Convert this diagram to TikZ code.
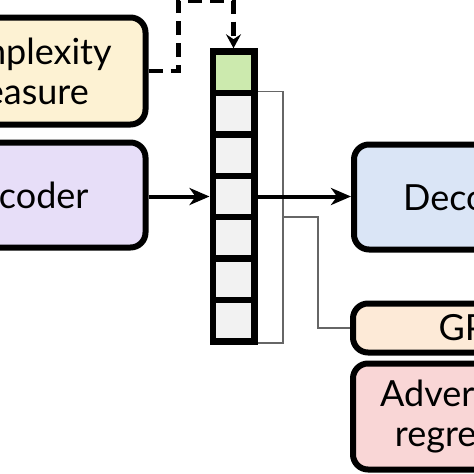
\documentclass[tikz,border=0pt]{standalone}
\usepackage{fontspec}
\setmainfont{Lato}
\usetikzlibrary{arrows.meta,calc}
\definecolor{cmY}{HTML}{FDF2D3}
\definecolor{encP}{HTML}{E7DEF8}
\definecolor{decB}{HTML}{DAE5F6}
\definecolor{gpO}{HTML}{FDEAD7}
\definecolor{advR}{HTML}{F9D6D6}
\definecolor{cellG}{HTML}{CCEAAE}
\definecolor{cellGr}{HTML}{F2F2F2}
\definecolor{lineGr}{HTML}{666666}
\begin{document}
\begin{tikzpicture}[x=1pt,y=-1pt,
  box/.style={draw=black, line width=6pt, rounded corners=15pt, align=center,
    font=\fontsize{36}{40}\selectfont, inner sep=0pt},
  cell/.style={draw=black, line width=6.5pt, minimum width=41.5pt,
    minimum height=41.43pt, inner sep=0pt, fill=cellGr},
  arr/.style={line width=4pt, -{Stealth[length=20pt,width=17pt,inset=6pt]}},
  dsh/.style={line width=4.5pt, dash pattern=on 14pt off 8pt,
    -{Stealth[length=14pt,width=15pt,inset=5pt]}},
  gline/.style={draw=lineGr, line width=1.5pt}]
\useasboundingbox (0,0) rectangle (474,474);
\clip (0,0) rectangle (474,474);

% boxes
\node[box, fill=cmY, minimum width=247pt, minimum height=107pt] (cm) at (22,71) {Complexity\\measure};
\node[box, fill=encP, minimum width=244pt, minimum height=105pt] (enc) at (23.5,195) {Encoder};
\node[box, fill=decB, minimum width=234pt, minimum height=105pt] (dec) at (471,197) {Decoder};
\node[box, fill=gpO, minimum width=219pt, minimum height=49pt] (gp) at (462.5,328) {GP};
\node[box, fill=advR, minimum width=230pt, minimum height=106pt] (adv) at (468,416.5) {Adversarial\\regressor};

% grey connectors
\coordinate (brk) at (283,217);
\draw[gline] (233.5,91.5) -| (brk) |- (233.5,343);
\draw[gline] (brk) -- ++(35,0) |- (gp.west);

% column of cells
\node[cell, fill=cellG] (c1) at (233.5,{51.5+41.43*0.5}) {};
\foreach \i in {2,...,7}
  \node[cell] (c\i) at (233.5,{51.5+41.43*(\i-0.5)}) {};

% arrows
\draw[arr] (enc.east |- c4) -- (c4.west);
\draw[arr] (c4.east) -- (c4 -| dec.west);
\draw[dsh] (cm.east) -- ++(30,0) |- ([yshift=47.5pt]c1.north) -- (c1.north);
\end{tikzpicture}
\end{document}
